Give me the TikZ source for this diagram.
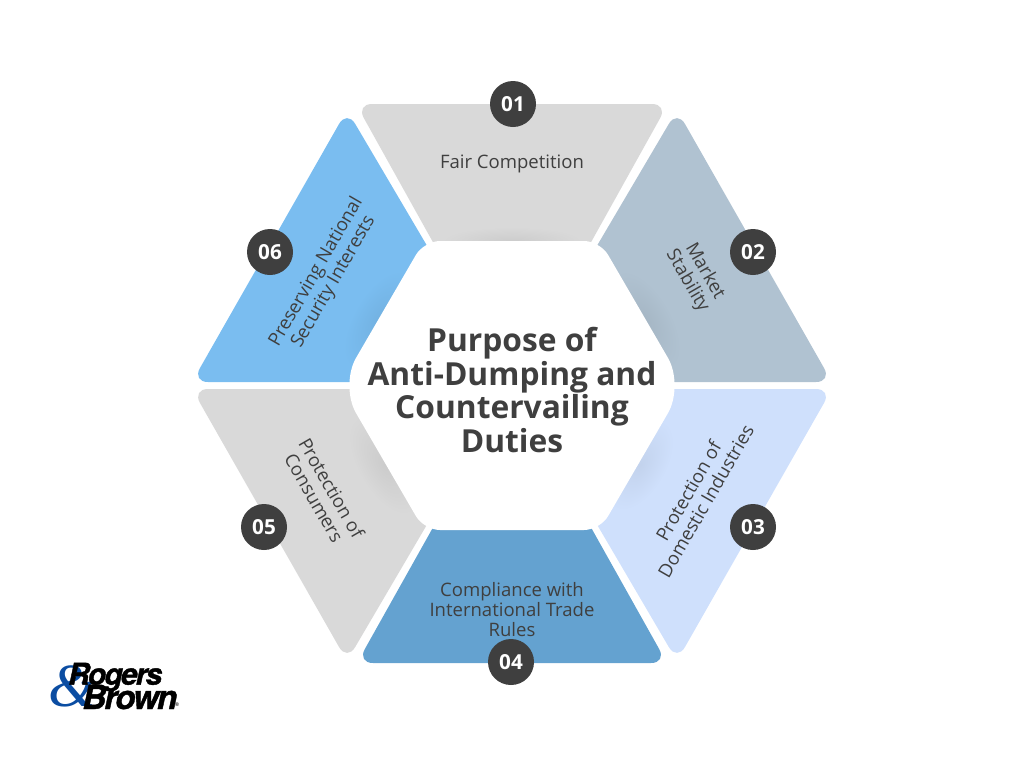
\documentclass[tikz,border=0pt]{standalone}
\usepackage{fontspec}
\setmainfont{Open Sans}
\newfontfamily\logofont{TeX Gyre Heros}
\newfontfamily\ampfont{Liberation Serif}
\definecolor{darkgrey}{HTML}{3F3F3F}
\definecolor{panelgrey}{HTML}{D9D9D9}
\definecolor{panelslate}{HTML}{B0C2D1}
\definecolor{panelpale}{HTML}{CFE0FC}
\definecolor{panelblue}{HTML}{64A2D0}
\definecolor{panelsky}{HTML}{7ABDF0}
\definecolor{logoblue}{HTML}{0B4DA2}
\tikzset{
  panel/.style={rounded corners=12pt},
  blob/.style={inner color=#1!94!black,outer color=#1},
  label/.style={text=darkgrey,font=\fontsize{13.9}{15}\selectfont,align=center},
  badge/.style={circle,fill=darkgrey,text=white,minimum size=34.5pt,inner sep=0pt,font=\fontsize{15.5}{18}\selectfont\bfseries},
  logotext/.style={anchor=west,inner sep=0pt,text=black},
}
\begin{document}
\begin{tikzpicture}[x=.75pt,y=-.75pt]
      \useasboundingbox (0,0) rectangle (1024,768);

      \begin{scope}[every path/.style={panel}]
        \fill[panelgrey]  (356,104) -- (668,104) -- (570,280) -- (454,280) -- cycle;
        \fill[panelslate] (677,110) -- (832,382) -- (640,382) -- (565,300) -- cycle;
        \fill[panelpale]  (832,389) -- (677,661) -- (565,470) -- (640,389) -- cycle;
        \fill[panelblue]  (357,663) -- (667,663) -- (570,490) -- (454,490) -- cycle;
        \fill[panelgrey]  (192,389) -- (347,661) -- (459,470) -- (384,389) -- cycle;
        \fill[panelsky]   (192,382) -- (347,110) -- (459,300) -- (384,382) -- cycle;
      \end{scope}

      % soft shade along the centre
      \shade[blob=panelslate,transform canvas={shift={(645,320)},rotate=-60}] (0,0) ellipse (55 and 26);
      \shade[blob=panelpale,transform canvas={shift={(640,465)},rotate=60}] (0,0) ellipse (50 and 26);
      \shade[blob=panelgrey,transform canvas={shift={(384,465)},rotate=-60}] (0,0) ellipse (55 and 26);
      \shade[blob=panelsky,transform canvas={shift={(379,320)},rotate=60}] (0,0) ellipse (55 and 26);
      \shade[blob=panelgrey,transform canvas={shift={(512,241)}}] (0,0) ellipse (70 and 14);

      % centre
      \fill[white,rounded corners=12pt] (424,241) -- (600,241) [rounded corners=24pt] -- (684,385.5) [rounded corners=12pt] -- (600,530) -- (424,530) [rounded corners=24pt] -- (340,385.5) [rounded corners=12pt] -- cycle;

      \node[text=darkgrey,align=center,font=\fontsize{23.8}{25.4}\selectfont\bfseries] (title) at (512,390) {Purpose of\\Anti-Dumping and\\Countervailing\\Duties};

      \node[label] (fair)    at (512,164) {Fair Competition};
      \node[label,rotate=-60] (market) at (696,276) {Market\\Stability};
      \node[label,rotate=60]  (domestic) at (697,496) {Protection of\\Domestic Industries};
      \node[label] (trade)   at (512,610) {Compliance with\\International Trade\\Rules};
      \node[label,rotate=-60] (consumers) at (323,493) {Protection of\\Consumers};
      \node[label,rotate=60]  (security) at (325,277) {Preserving National\\Security Interests};

      \node[badge] (1) at (513,104) {01};
      \node[badge] (2) at (753,252) {02};
      \node[badge] (3) at (753,527) {03};
      \node[badge] (4) at (511,662) {04};
      \node[badge] (5) at (264,527) {05};
      \node[badge] (6) at (270,252) {06};

      % logo
      \node[text=logoblue,font=\fontsize{46}{46}\selectfont\itshape\ampfont] (amp) at (72,686) {\&};
      \node[logotext,font=\fontsize{22.5}{22}\selectfont\bfseries\itshape\logofont\addfontfeature{LetterSpace=-6,FakeBold=1.2}] (rogers) at (68,677) {Rogers};
      \node[logotext,font=\fontsize{25}{25}\selectfont\bfseries\itshape\logofont\addfontfeature{LetterSpace=-6,FakeBold=1.2}] (brown) at (82,697) {Brown};
      \node[inner sep=0pt,text=black,font=\fontsize{4}{4}\selectfont\logofont] (reg) at (177,705) {\char"00AE};

    \end{tikzpicture}
\end{document}
